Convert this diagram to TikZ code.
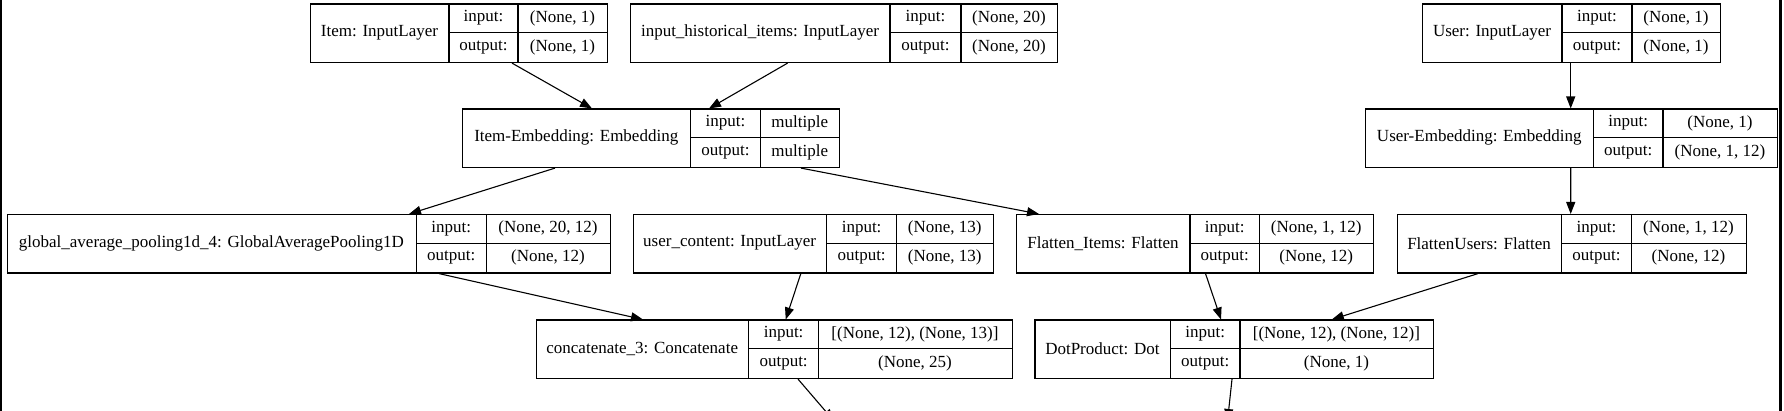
\documentclass[tikz,border=0pt]{standalone}
\usepackage{fontspec}
\setmainfont{Liberation Serif}
\usetikzlibrary{arrows.meta}
\def\rowh{58.5}
\def\layer(#1)(#2:#3:#4:#5:#6)#7#8#9{
	\node[layer, minimum width={#5-#2}, anchor=north west] (#1) at (#2,#6) {};
	\node[cell] at ({(#2+#3)/2},{#6+\rowh/2}) {#7};
	\draw[rule] (#3,#6) -- (#3,#6+\rowh);
	\draw[rule] (#4,#6) -- (#4,#6+\rowh);
	\draw[rule] (#3,#6+\rowh/2) -- (#5,#6+\rowh/2);
	\node[cell] at ({(#3+#4)/2},{#6+\rowh/4}) {input:};
	\node[cell] at ({(#3+#4)/2},{#6+3*\rowh/4}) {output:};
	\node[cell] at ({(#4+#5)/2},{#6+\rowh/4}) {#8};
	\node[cell] at ({(#4+#5)/2},{#6+3*\rowh/4}) {#9};
}

\begin{document}
\begin{tikzpicture}[x=1pt, y=-1pt,
		layer/.style={draw, rectangle, line width=1.1pt, inner sep=0pt, minimum height=\rowh},
		rule/.style={line width=1.1pt},
		cell/.style={inner sep=0pt, font=\fontsize{17}{20}\selectfont},
		edge/.style={line width=1.1pt, -{Triangle[length=12pt, width=9pt]}},
		frame/.style={line width=2.5pt}]
				%%%%% START %%%%%
				\useasboundingbox (0,0) rectangle (1784,411);
				\clip (0,0) rectangle (1784,411);
				
				\draw[frame] (1,-10) -- (1,421);
				\draw[frame] (1780.7,-10) -- (1780.7,421);
				
				\layer(item)(310:449:518:607:3.5){Item: InputLayer}{(None, 1)}{(None, 1)}
				\layer(hist)(630:890:961:1057:3.5){input\_historical\_items: InputLayer}{(None, 20)}{(None, 20)}
				\layer(user)(1422:1562:1632:1720:3.5){User: InputLayer}{(None, 1)}{(None, 1)}
				
				\layer(itememb)(462:690.5:760.5:839:108.5){Item-Embedding: Embedding}{multiple}{multiple}
				\layer(useremb)(1365:1593.5:1663:1777:108.5){User-Embedding: Embedding}{(None, 1)}{(None, 1, 12)}
				
				\layer(gap)(6.5:416.3:486.3:609.6:214){global\_average\_pooling1d\_4: GlobalAveragePooling1D}{(None, 20, 12)}{(None, 12)}
				\layer(ucontent)(632.6:826.6:896.6:993:214){user\_content: InputLayer}{(None, 13)}{(None, 13)}
				\layer(flatitems)(1016:1190:1259.4:1373:214){Flatten\_Items: Flatten}{(None, 1, 12)}{(None, 12)}
				\layer(flatusers)(1396.6:1561.4:1631.5:1745.5:214){FlattenUsers: Flatten}{(None, 1, 12)}{(None, 12)}
				
				\layer(concat)(535.6:748.8:818.4:1011.6:319.5){concatenate\_3: Concatenate}{[(None, 12), (None, 13)]}{(None, 25)}
				\layer(dot)(1034.4:1170.4:1240:1432.8:319.5){DotProduct: Dot}{[(None, 12), (None, 12)]}{(None, 1)}
				
				\coordinate (concat-out) at (834,421);
				\coordinate (dot-out) at (1227.5,421);
				
				\draw[edge] ([xshift=202]item.south west) -- ([xshift=130]itememb.north west);
				\draw[edge] ([xshift=157.6]hist.south west) -- ([xshift=247]itememb.north west);
				\draw[edge] ([xshift=148.7]user.south west) -- ([xshift=205.7]useremb.north west);
				\draw[edge] ([xshift=205.7]useremb.south west) -- ([xshift=174.1]flatusers.north west);
				\draw[edge] ([xshift=93]itememb.south west) -- ([xshift=402.5]gap.north west);
				\draw[edge] ([xshift=339]itememb.south west) -- ([xshift=23]flatitems.north west);
				\draw[edge] ([xshift=432.5]gap.south west) -- ([xshift=107.4]concat.north west);
				\draw[edge] ([xshift=168.2]ucontent.south west) -- ([xshift=250.1]concat.north west);
				\draw[edge] ([xshift=189.5]flatitems.south west) -- ([xshift=186.6]dot.north west);
				\draw[edge] ([xshift=81.4]flatusers.south west) -- ([xshift=297.4]dot.north west);
				\draw[edge] ([xshift=262.4]concat.south west) -- (concat-out);
				\draw[edge] ([xshift=197.6]dot.south west) -- (dot-out);
				%%%%% END %%%%%
\end{tikzpicture}
\end{document}
